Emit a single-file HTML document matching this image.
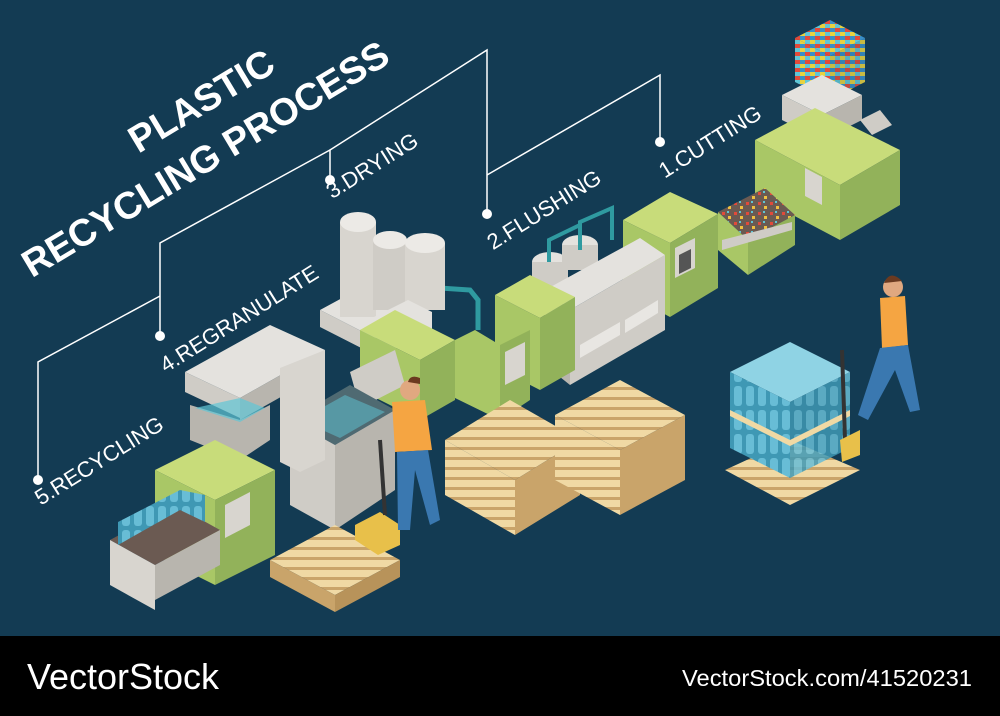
<!DOCTYPE html>
<html><head><meta charset="utf-8"><style>
html,body{margin:0;padding:0;background:#123a52;}
svg{display:block}
</style></head><body>
<svg width="1000" height="716" viewBox="0 0 1000 716" xmlns="http://www.w3.org/2000/svg" font-family="Liberation Sans, sans-serif">
<defs>
<pattern id="cube" width="10" height="8" patternUnits="userSpaceOnUse">
<rect width="10" height="8" fill="#3a8fc8"/><rect width="5" height="4" fill="#e8d240"/><rect x="5" y="4" width="5" height="4" fill="#e24a3a"/><rect x="5" width="5" height="4" fill="#5fc6d6"/>
</pattern>
<pattern id="bits" width="12" height="10" patternUnits="userSpaceOnUse">
<rect width="12" height="10" fill="#6b5a52"/><rect x="2" y="2" width="3" height="3" fill="#e24a3a"/><rect x="8" y="6" width="3" height="3" fill="#f0c040"/><rect x="7" y="1" width="2" height="2" fill="#5fc6d6"/>
</pattern>
<pattern id="btl" width="12" height="24" patternUnits="userSpaceOnUse">
<rect width="12" height="24" fill="#3f98b4"/><rect x="2" y="2" width="8" height="20" rx="3" fill="#68bdd6"/>
</pattern>
<pattern id="pal" width="10" height="10" patternUnits="userSpaceOnUse">
<rect width="10" height="10" fill="#f0d9a4"/><rect y="7" width="10" height="3" fill="#c9a46a"/>
</pattern>
</defs>
<rect width="1000" height="636" fill="#133b53"/>

<g stroke="#fff" stroke-width="1.5" fill="none">
<polyline points="38,478 38,362 160,296"/>
<polyline points="160,335 160,243 330,150 330,178"/>
<polyline points="330,150 487,50 487,213"/>
<polyline points="487,175 660,75 660,140"/>
</g>
<g fill="#fff">
<circle cx="38" cy="480" r="5"/><circle cx="160" cy="336" r="5"/><circle cx="330" cy="180" r="5"/><circle cx="487" cy="214" r="5"/><circle cx="660" cy="142" r="5"/>
</g>

<g fill="#fff" font-weight="bold">
<text transform="translate(208,112) rotate(-31)" text-anchor="middle" font-size="38">PLASTIC</text>
<text transform="translate(212,170) rotate(-31)" text-anchor="middle" font-size="38">RECYCLING PROCESS</text>
</g>
<g fill="#fff" font-size="22">
<text transform="translate(714,148) rotate(-32)" text-anchor="middle">1.CUTTING</text>
<text transform="translate(548,216) rotate(-32)" text-anchor="middle">2.FLUSHING</text>
<text transform="translate(376,172) rotate(-32)" text-anchor="middle">3.DRYING</text>
<text transform="translate(243,325) rotate(-32)" text-anchor="middle">4.REGRANULATE</text>
<text transform="translate(103,467) rotate(-32)" text-anchor="middle">5.RECYCLING</text>
</g>

<!-- Cutting machine -->
<polygon points="795,38 830,20 865,38 830,56" fill="url(#cube)"/>
<polygon points="795,38 830,56 830,100 795,82" fill="url(#cube)"/>
<polygon points="830,56 865,38 865,82 830,100" fill="url(#cube)" opacity="0.85"/>
<polygon points="782,95 822,75 862,95 822,115" fill="#e4e2de"/>
<polygon points="782,95 822,115 822,140 782,120" fill="#cfccc6"/>
<polygon points="822,115 862,95 862,120 822,140" fill="#b8b5ae"/>
<polygon points="860,120 880,110 892,125 872,135" fill="#cfccc6"/>
<polygon points="755,140 815,108 900,150 840,185" fill="#c8dc7a"/>
<polygon points="755,140 840,185 840,240 755,195" fill="#a9c766"/>
<polygon points="840,185 900,150 900,205 840,240" fill="#92b25a"/>
<polygon points="805,168 822,177 822,205 805,196" fill="#d8d5cf"/>
<polygon points="718,212 765,188 795,215 748,240" fill="url(#bits)"/>
<polygon points="718,212 748,240 748,275 718,250" fill="#a9c766"/>
<polygon points="748,240 795,215 795,245 748,275" fill="#92b25a"/>
<polygon points="722,240 792,222 792,230 722,250" fill="#cfccc6"/>

<!-- green box 3 -->
<polygon points="623,220 670,192 718,214 670,243" fill="#c8dc7a"/>
<polygon points="623,220 670,243 670,317 623,292" fill="#a9c766"/>
<polygon points="670,243 718,214 718,288 670,317" fill="#92b25a"/>
<polygon points="675,248 695,238 695,268 675,278" fill="#d8d5cf"/>
<polygon points="679,255 691,249 691,268 679,274" fill="#555"/>

<!-- extruder -->
<ellipse cx="550" cy="262" rx="18" ry="10" fill="#e4e2de"/>
<rect x="532" y="262" width="36" height="25" fill="#cfccc6"/>
<ellipse cx="580" cy="245" rx="18" ry="10" fill="#e4e2de"/>
<rect x="562" y="245" width="36" height="25" fill="#cfccc6"/>
<polyline points="549,262 549,240 580,225 580,250" stroke="#2f9aa0" stroke-width="4" fill="none"/>
<polyline points="580,245 580,222 612,208 612,240" stroke="#2f9aa0" stroke-width="4" fill="none"/>
<polygon points="545,290 640,238 665,255 570,310" fill="#e4e2de"/>
<polygon points="570,310 665,255 665,330 570,385" fill="#cfccc6"/>
<polygon points="545,290 570,310 570,385 545,365" fill="#b8b5ae"/>
<polygon points="580,345 620,322 620,335 580,358" fill="#e8e6e2"/>
<polygon points="625,320 658,300 658,313 625,333" fill="#e8e6e2"/>

<!-- green box 5 -->
<polygon points="495,295 530,275 575,297 540,318" fill="#c8dc7a"/>
<polygon points="495,295 540,318 540,390 495,367" fill="#a9c766"/>
<polygon points="540,318 575,297 575,370 540,390" fill="#92b25a"/>
<polygon points="455,340 475,330 500,345 500,420 455,398" fill="#a9c766"/>
<polygon points="500,345 530,330 530,400 500,420" fill="#92b25a"/>
<polygon points="505,352 525,342 525,375 505,385" fill="#d8d5cf"/>
<polyline points="440,300 440,288 470,290 478,300 478,330" stroke="#2f9aa0" stroke-width="5" fill="none"/>

<!-- drying -->
<polygon points="320,310 390,272 445,300 375,338" fill="#e4e2de"/>
<polygon points="320,310 375,338 375,355 320,327" fill="#cfccc6"/>
<rect x="340" y="222" width="36" height="95" fill="#d8d5cf"/><ellipse cx="358" cy="222" rx="18" ry="10" fill="#eceae6"/>
<rect x="373" y="240" width="34" height="70" fill="#cfccc6"/><ellipse cx="390" cy="240" rx="17" ry="9" fill="#eceae6"/>
<rect x="405" y="243" width="40" height="67" fill="#d8d5cf"/><ellipse cx="425" cy="243" rx="20" ry="10" fill="#eceae6"/>
<polygon points="372,318 408,300 432,312 432,330 396,348 372,336" fill="#e4e2de"/>
<polygon points="360,330 395,310 455,340 420,360" fill="#c8dc7a"/>
<polygon points="360,330 420,360 420,420 360,390" fill="#a9c766"/>
<polygon points="420,360 455,340 455,400 420,420" fill="#92b25a"/>
<polygon points="350,372 395,350 405,385 360,408" fill="#cfccc6"/>

<!-- regranulate -->
<polygon points="290,420 350,385 395,410 335,445" fill="#4f6a72"/>
<polygon points="300,420 345,395 385,412 340,438" fill="#5fc6d6" opacity="0.5"/>
<polygon points="290,420 335,445 335,530 290,505" fill="#cfccc6"/>
<polygon points="335,445 395,410 395,490 335,530" fill="#b8b5ae"/>
<polygon points="185,372 270,325 325,350 240,398" fill="#e4e2de"/>
<polygon points="185,372 240,398 240,418 185,392" fill="#cfccc6"/>
<polygon points="240,398 325,350 325,372 240,420" fill="#b8b5ae"/>
<polygon points="280,368 325,350 325,460 300,472 280,462" fill="#d8d5cf"/>
<polygon points="190,405 240,420 270,405 270,440 240,460 190,440" fill="#b8b5ae"/>
<polygon points="195,408 240,422 265,408 240,398" fill="#5fc6d6" opacity="0.7"/>

<!-- recycling -->
<polygon points="155,470 215,440 275,470 215,500" fill="#c8dc7a"/>
<polygon points="155,470 215,500 215,585 155,555" fill="#a9c766"/>
<polygon points="215,500 275,470 275,555 215,585" fill="#92b25a"/>
<polygon points="225,505 250,492 250,525 225,538" fill="#d8d5cf"/>
<polygon points="110,540 175,505 220,530 155,565" fill="#6b5a52"/>
<polygon points="110,540 155,565 155,610 110,585" fill="#d8d5cf"/>
<polygon points="155,565 220,530 220,565 155,600" fill="#b8b5ae"/>
<polygon points="118,545 180,510 205,522 205,495 180,490 118,522" fill="url(#btl)"/>

<!-- pallets -->
<polygon points="270,560 335,525 400,560 335,595" fill="url(#pal)"/>
<polygon points="270,560 335,595 335,612 270,577" fill="#c9a46a"/>
<polygon points="335,595 400,560 400,577 335,612" fill="#b8935a"/>
<polygon points="445,440 510,400 580,440 515,480" fill="url(#pal)"/>
<polygon points="445,440 515,480 515,535 445,495" fill="url(#pal)"/>
<polygon points="515,480 580,440 580,495 515,535" fill="#c9a46a"/>
<polygon points="555,415 620,380 685,415 620,450" fill="url(#pal)"/>
<polygon points="555,415 620,450 620,515 555,480" fill="url(#pal)"/>
<polygon points="620,450 685,415 685,480 620,515" fill="#c9a46a"/>
<polygon points="725,470 790,440 860,470 790,505" fill="url(#pal)"/>
<polygon points="730,372 790,342 850,372 790,402" fill="#8fd3e4"/>
<polygon points="730,372 790,402 790,478 730,448" fill="url(#btl)"/>
<polygon points="790,402 850,372 850,448 790,478" fill="url(#btl)" opacity="0.85"/>
<polygon points="730,410 790,440 850,410 850,416 790,446 730,416" fill="#f0d9a4"/>

<!-- pallet jack -->
<polygon points="355,525 380,512 400,525 400,545 378,555 355,540" fill="#e8c04a"/>
<line x1="385" y1="515" x2="380" y2="440" stroke="#333" stroke-width="4"/>
<line x1="845" y1="440" x2="842" y2="350" stroke="#333" stroke-width="4"/>
<polygon points="840,440 860,430 860,455 842,462" fill="#e8c04a"/>

<!-- workers -->
<circle cx="410" cy="390" r="10" fill="#e0a880"/>
<path d="M408 382 q2 -8 12 -4 l0 6 z" fill="#6b3a20"/>
<polygon points="392,402 425,400 432,450 395,452" fill="#f5a542"/>
<polygon points="397,452 428,450 440,520 430,525 415,470 410,530 398,530" fill="#3a78b0"/>
<circle cx="893" cy="287" r="10" fill="#e0a880"/>
<path d="M884 283 q6 -14 18 -2 z" fill="#6b3a20"/>
<polygon points="880,298 905,296 908,345 882,348" fill="#f5a542"/>
<polygon points="880,348 908,345 920,410 910,412 895,370 868,420 858,415" fill="#3a78b0"/>

<rect x="0" y="636" width="1000" height="80" fill="#000"/>
<text x="27" y="689" fill="#fff" font-size="36" textLength="192" lengthAdjust="spacingAndGlyphs">VectorStock</text>
<text x="682" y="686" fill="#fff" font-size="23" textLength="290" lengthAdjust="spacingAndGlyphs">VectorStock.com/41520231</text>
</svg>
</body></html>
